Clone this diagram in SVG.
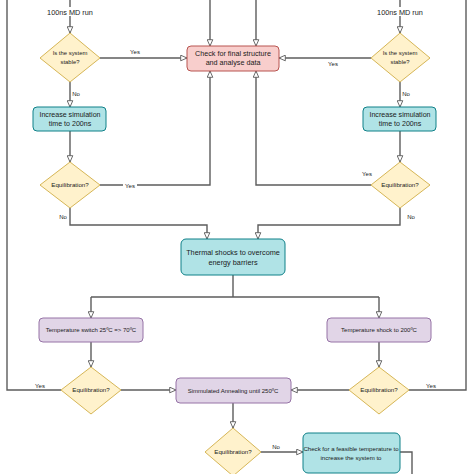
<svg xmlns="http://www.w3.org/2000/svg" width="474" height="474" viewBox="0 0 474 474">
<defs>
<marker id="arr" viewBox="0 0 10 10" refX="10" refY="5" markerWidth="7" markerHeight="7" markerUnits="userSpaceOnUse" orient="auto">
<path d="M1,1 L10,5 L1,9 Z" fill="#fff" stroke="#5c5c5c" stroke-width="1.3"/>
</marker>
<style>
.c{fill:none;stroke:#5c5c5c;stroke-width:1.4}
.a{marker-end:url(#arr)}
text{font-family:"Liberation Sans",Arial,sans-serif;fill:#1a1a1a;text-anchor:middle}
.dia{fill:#fff2cc;stroke:#d6b656;stroke-width:1}
.pink{fill:#f8cecc;stroke:#b85450;stroke-width:1}
.teal{fill:#b0e3e6;stroke:#0e8088;stroke-width:1}
.purp{fill:#e1d5e7;stroke:#9673a6;stroke-width:1}
.lbl{font-size:6px}
</style>
</defs>
<rect width="474" height="474" fill="#fff"/>
<g id="connectors">
<path class="c a" d="M70,0 V33"/>
<path class="c a" d="M400,0 V33"/>
<path class="c a" d="M210,0 V46"/>
<path class="c a" d="M256,0 V46"/>
<path class="c a" d="M100,58 H187"/>
<path class="c a" d="M371,58 H279"/>
<path class="c a" d="M70,82 V107"/>
<path class="c a" d="M400,82 V107"/>
<path class="c a" d="M70,131 V162"/>
<path class="c a" d="M400,131 V162"/>
<path class="c a" d="M100,185 H210 V71"/>
<path class="c a" d="M371,185 H256 V71"/>
<path class="c a" d="M70,208 V225 H207 V239"/>
<path class="c a" d="M400,208 V225 H258 V239"/>
<path class="c" d="M233,275 V297 M91,297 H379"/>
<path class="c a" d="M91,297 V318"/>
<path class="c a" d="M379,297 V318"/>
<path class="c a" d="M91,342 V367"/>
<path class="c a" d="M379,342 V367"/>
<path class="c" d="M61,390 H7 V0"/>
<path class="c" d="M409,390 H466 V0"/>
<path class="c a" d="M121,390 H176"/>
<path class="c a" d="M349,390 H291"/>
<path class="c a" d="M233,403 V428"/>
<path class="c a" d="M261,452 H303"/>
<path class="c" d="M400,452 H412 V474"/>
<rect x="45" y="7" width="50" height="9" fill="#fff"/>
<text x="70" y="14.5" style="font-size:7.3px">100ns MD run</text>
<rect x="375" y="7" width="50" height="9" fill="#fff"/>
<text x="400" y="14.5" style="font-size:7.3px">100ns MD run</text>
<text class="lbl" x="135" y="54">Yes</text>
<text class="lbl" x="333" y="66">Yes</text>
<text class="lbl" x="76" y="96">No</text>
<text class="lbl" x="406" y="96">No</text>
<rect x="123" y="182" width="14" height="7" fill="#fff"/>
<text class="lbl" x="130" y="188">Yes</text>
<text class="lbl" x="367" y="176">Yes</text>
<text class="lbl" x="63" y="219">No</text>
<text class="lbl" x="411" y="219">No</text>
<text class="lbl" x="40" y="388">Yes</text>
<text class="lbl" x="431" y="388">Yes</text>
<text class="lbl" x="276" y="449">No</text>
</g>
<g id="stable-left">
<path class="dia" d="M70,33 L100,58 L70,82 L40,58 Z"/>
<text x="70" y="55" style="font-size:5.9px">Is the system</text>
<text x="70" y="64" style="font-size:5.9px">stable?</text>
</g>
<g id="stable-right">
<path class="dia" d="M400,33 L430,58 L400,82 L371,58 Z"/>
<text x="400" y="55" style="font-size:5.9px">Is the system</text>
<text x="400" y="64" style="font-size:5.9px">stable?</text>
</g>
<g id="check-final">
<rect class="pink" x="187" y="46" width="92" height="25" rx="4"/>
<text x="233" y="56" style="font-size:7.2px">Check for final structure</text>
<text x="233" y="65" style="font-size:7.2px">and analyse data</text>
</g>
<g id="increase-left">
<rect class="teal" x="33" y="107" width="73" height="24" rx="4"/>
<text x="70" y="117" style="font-size:7.1px">Increase simulation</text>
<text x="70" y="126" style="font-size:7.1px">time to 200ns</text>
</g>
<g id="increase-right">
<rect class="teal" x="363" y="107" width="73" height="24" rx="4"/>
<text x="400" y="117" style="font-size:7.1px">Increase simulation</text>
<text x="400" y="126" style="font-size:7.1px">time to 200ns</text>
</g>
<g id="equil-left">
<path class="dia" d="M70,162 L100,185 L70,208 L40,185 Z"/>
<text x="70" y="187" style="font-size:6.2px">Equilibration?</text>
</g>
<g id="equil-right">
<path class="dia" d="M400,162 L430,185 L400,208 L371,185 Z"/>
<text x="400" y="187" style="font-size:6.2px">Equilibration?</text>
</g>
<g id="thermal">
<rect class="teal" x="181" y="239" width="104" height="36" rx="5"/>
<text x="233" y="255" style="font-size:7.3px">Thermal shocks to overcome</text>
<text x="233" y="265" style="font-size:7.3px">energy barriers</text>
</g>
<g id="temp-switch">
<rect class="purp" x="39" y="318" width="104" height="24" rx="4"/>
<text x="91" y="332" style="font-size:6px">Temperature switch 25ºC =&gt; 70ºC</text>
</g>
<g id="temp-shock">
<rect class="purp" x="327" y="318" width="104" height="24" rx="4"/>
<text x="379" y="332" style="font-size:6px">Temperature shock to 200ºC</text>
</g>
<g id="equil-bl">
<path class="dia" d="M91,367 L121,390 L91,414 L61,390 Z"/>
<text x="91" y="392" style="font-size:6.2px">Equilibration?</text>
</g>
<g id="equil-br">
<path class="dia" d="M379,367 L409,390 L379,414 L349,390 Z"/>
<text x="379" y="392" style="font-size:6.2px">Equilibration?</text>
</g>
<g id="annealing">
<rect class="purp" x="176" y="378" width="115" height="25" rx="4"/>
<text x="233" y="393" style="font-size:6px">Simmulated Annealing until 250ºC</text>
</g>
<g id="equil-bottom">
<path class="dia" d="M233,428 L261,452 L233,476 L205,452 Z"/>
<text x="233" y="454" style="font-size:6.2px">Equilibration?</text>
</g>
<g id="check-feasible">
<rect class="teal" x="303" y="433" width="97" height="40" rx="5"/>
<text x="351" y="451" style="font-size:6.1px">Check for a feasible temperature to</text>
<text x="351" y="460" style="font-size:6.1px">increase the system to</text>
</g>
</svg>
